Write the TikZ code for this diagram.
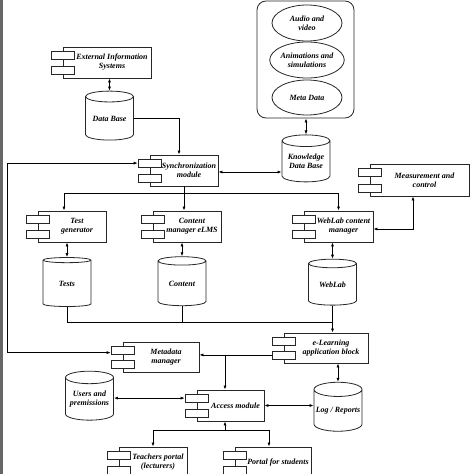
\documentclass[tikz,border=0pt]{standalone}
\usepackage{fontspec}
\setmainfont{Liberation Serif}
\usetikzlibrary{shapes.geometric,arrows.meta,calc}
\tikzset{
  lbl/.style = {align=center, inner sep=0pt, font=\bfseries\itshape\fontsize{8}{9}\selectfont},
  comp/.style = {rectangle, draw=black!85, line width=0.8pt, minimum height=31pt, inner sep=0pt,
                 label={[lbl, xshift=5pt]center:{#1}}},
  tab/.style = {rectangle, draw=black!85, line width=0.8pt, fill=white, inner sep=0pt,
                minimum width=23pt, minimum height=8pt},
  store/.style = {lbl, cylinder, shape border rotate=90, aspect=0.32, draw=black!85, line width=0.8pt,
                  minimum width=48pt, minimum height=49pt},
  media/.style = {lbl, ellipse, draw=black!85, line width=0.8pt, minimum width=70pt, minimum height=36pt},
  link/.style = {line width=0.7pt},
}

\begin{document}
\begin{tikzpicture}[x=1pt, y=-1pt, >={Latex[length=4pt,width=3pt]}]
\useasboundingbox (0,0) rectangle (474,474);
\fill[black!60] (0,0) rectangle (2.5,474);

% multimedia group
\node[rectangle, draw=black!85, line width=0.8pt, rounded corners=9pt,
      minimum width=97pt, minimum height=117pt] (group) at (305.5,59.5) {};
\node[media] (av) at (307,23) {Audio and\\video};
\node[media] (anim) at (307,60) {Animations and\\simulations};
\node[media, minimum height=35pt] (md) at (307,97.5) {Meta Data};
\node[store, minimum height=47pt] (kdb) at (306,161.5) {Knowledge\\Data Base};

% upper part
\node[comp={External Information\\Systems}, minimum width=88pt] (ext) at (107,62.5) {};
\node[store] (db) at (109.5,118.5) {Data Base};
\node[comp={Synchronization\\module}, minimum width=68pt] (sync) at (184,170.5) {};
\node[comp={Measurement and\\control}, minimum width=99pt, minimum height=32pt] (meas) at (419.5,180) {};
\node[comp={Test\\generator}, minimum width=68pt] (test) at (72,226.5) {};
\node[comp={Content\\manager eLMS}, minimum width=68pt] (cms) at (187,226.5) {};
\node[comp={WebLab content\\manager}, minimum width=69pt] (wcm) at (338.5,226.5) {};
\node[store] (tests) at (67,283.5) {Tests};
\node[store] (content) at (182,283.5) {Content};
\node[store, minimum height=46pt] (weblab) at (332.5,284.5) {WebLab};

% lower part
\node[comp={e-Learning\\application block}, minimum width=84pt, minimum height=30pt] (elab) at (326,348) {};
\node[comp={Metadata\\manager}, minimum width=76pt, minimum height=30pt] (meta) at (161,357) {};
\node[store] (users) at (89.5,399) {Users and\\premissions};
\node[comp={Access module}, minimum width=67pt] (access) at (230.5,405.5) {};
\node[store] (log) at (338,410.5) {Log / Reports};
\node[comp={Teachers portal\\(lecturers)}, minimum width=68pt] (teach) at (153,462.5) {};
\node[comp={Portal for students}, minimum width=76pt] (stud) at (273,462.5) {};

% component tabs
\foreach \n in {ext,sync,meas,test,cms,wcm,elab,meta,access,teach,stud} {
  \node[tab] (\n-t1) at ([yshift=-8.5pt]\n.north west) {};
  \node[tab] (\n-t2) at ([yshift=8.5pt]\n.south west) {};
}

% connectors
\draw[link,<->] (db.north |- ext.south) -- (db.north);
\draw[link,->] (db.east) -| ([xshift=-5pt]sync.north);
\draw[link,<->] (kdb.north |- group.south) -- (kdb.north);
\draw[link,<->] ([yshift=-1.5pt]sync.east) -- ([yshift=-1.5pt]sync.east -| kdb.west);
\coordinate (bus) at (184,193);
\draw[link] (sync.south) -- (bus);
\draw[link,->] (bus) -| ([xshift=-8pt]test.north);
\draw[link,->] (bus) -| (wcm.north);
\draw[link,->] (sync.south) -- (sync.south |- cms.north);
\draw[link,<->] ([xshift=-6.5pt]meas.south) |- ([yshift=-2.5pt]wcm.east);
\draw[link,<->] (tests.north |- test.south) -- (tests.north);
\draw[link,<->] (content.north |- cms.south) -- (content.north);
\draw[link,<->] (weblab.north |- wcm.south) -- (weblab.north);

\coordinate (join) at (332.5,322);
\draw[link] (tests.south) |- (join);
\draw[link] (content.south) -- (content.south |- join);
\draw[link,->] (weblab.south) -- (weblab.south |- elab.north);

\draw[link,<->] (sync-t1.west) -- ++(-130pt,0) |- ([yshift=-2.5pt]meta-t1.west);
\draw[link,->] (elab-t2.west) -- (elab-t2.west -| meta.east);
\draw[link,->] ([xshift=-5.5pt]access.north |- elab-t2.west) -- ([xshift=-5.5pt]access.north);
\draw[link,<->] (log.north |- elab.south) -- (log.north);
\draw[link,<->] (users.east |- access-t1.west) -- (access-t1.west);
\draw[link,<->] (access.east) -- (access.east -| log.west);

\coordinate (pbus) at (225,430);
\draw[link,->] (pbus) -- (pbus |- access.south);
\draw[link,->] (pbus) -| (teach.north);
\draw[link,->] (pbus) -| ([xshift=-4pt]stud.north);
\end{tikzpicture}
\end{document}
